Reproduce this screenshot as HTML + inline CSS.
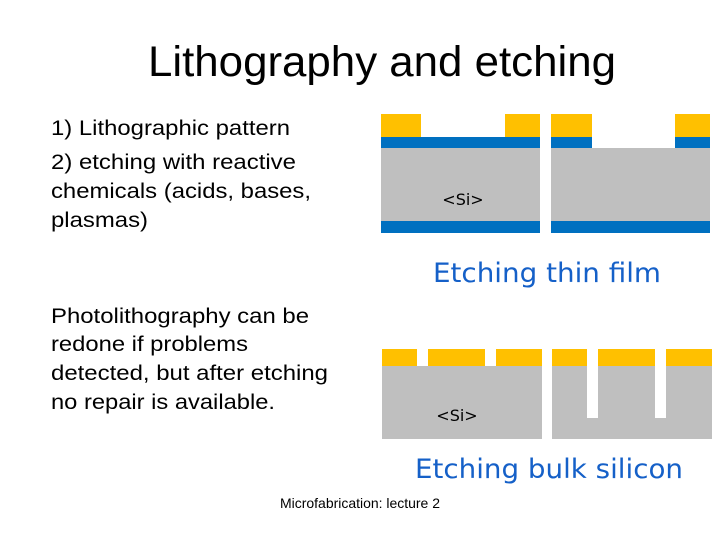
<!DOCTYPE html>
<html><head><meta charset="utf-8"><style>html,body{margin:0;padding:0;background:#fff}svg{display:block}</style></head><body>
<svg width="720" height="540" viewBox="0 0 720 540" xmlns="http://www.w3.org/2000/svg">
<rect width="720" height="540" fill="#fff"/>
<text x="148" y="76" font-family="Liberation Sans, sans-serif" font-size="43" textLength="468" lengthAdjust="spacingAndGlyphs" fill="#000">Lithography and etching</text>
<g font-family="Liberation Sans, sans-serif" font-size="21" fill="#000" lengthAdjust="spacingAndGlyphs">
<text x="51" y="135" textLength="239" lengthAdjust="spacingAndGlyphs">1) Lithographic pattern</text>
<text x="51" y="169" textLength="245" lengthAdjust="spacingAndGlyphs">2) etching with reactive</text>
<text x="51" y="198" textLength="260" lengthAdjust="spacingAndGlyphs">chemicals (acids, bases,</text>
<text x="51" y="227" textLength="97" lengthAdjust="spacingAndGlyphs">plasmas)</text>
<text x="51" y="323" textLength="258" lengthAdjust="spacingAndGlyphs">Photolithography can be</text>
<text x="51" y="351" textLength="197" lengthAdjust="spacingAndGlyphs">redone if problems</text>
<text x="51" y="380" textLength="277" lengthAdjust="spacingAndGlyphs">detected, but after etching</text>
<text x="51" y="409" textLength="224" lengthAdjust="spacingAndGlyphs">no repair is available.</text>
</g>
<rect x="381" y="114" width="40" height="23" fill="#ffc000"/>
<rect x="505" y="114" width="35" height="23" fill="#ffc000"/>
<rect x="381" y="137" width="159" height="11" fill="#0070c0"/>
<rect x="381" y="148" width="159" height="73" fill="#bfbfbf"/>
<rect x="381" y="221" width="159" height="12" fill="#0070c0"/>
<text x="463" y="205" font-family="DejaVu Sans, sans-serif" font-size="16" text-anchor="middle" fill="#000">&lt;Si&gt;</text>
<rect x="551" y="114" width="41" height="23" fill="#ffc000"/>
<rect x="675" y="114" width="35" height="23" fill="#ffc000"/>
<rect x="551" y="137" width="41" height="11" fill="#0070c0"/>
<rect x="675" y="137" width="35" height="11" fill="#0070c0"/>
<rect x="551" y="148" width="159" height="73" fill="#bfbfbf"/>
<rect x="551" y="221" width="159" height="12" fill="#0070c0"/>
<text x="433" y="282" font-family="DejaVu Sans, sans-serif" font-size="27" textLength="228" lengthAdjust="spacingAndGlyphs" fill="#1560c8">Etching thin film</text>
<rect x="382" y="349" width="35" height="17" fill="#ffc000"/>
<rect x="428" y="349" width="57" height="17" fill="#ffc000"/>
<rect x="496" y="349" width="46" height="17" fill="#ffc000"/>
<rect x="382" y="366" width="160" height="73" fill="#bfbfbf"/>
<text x="457" y="421" font-family="DejaVu Sans, sans-serif" font-size="16" text-anchor="middle" fill="#000">&lt;Si&gt;</text>
<rect x="552" y="349" width="35" height="17" fill="#ffc000"/>
<rect x="598" y="349" width="57" height="17" fill="#ffc000"/>
<rect x="666" y="349" width="46" height="17" fill="#ffc000"/>
<rect x="552" y="366" width="160" height="73" fill="#bfbfbf"/>
<rect x="587" y="366" width="11" height="52" fill="#fff"/>
<rect x="655" y="366" width="11" height="52" fill="#fff"/>
<text x="415" y="478" font-family="DejaVu Sans, sans-serif" font-size="27" textLength="268" lengthAdjust="spacingAndGlyphs" fill="#1560c8">Etching bulk silicon</text>
<text x="280" y="508" font-family="Liberation Sans, sans-serif" font-size="14" textLength="160" fill="#000">Microfabrication: lecture 2</text>
</svg>
</body></html>
